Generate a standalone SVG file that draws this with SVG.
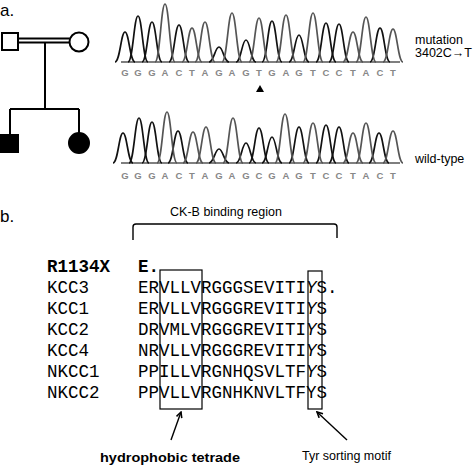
<svg xmlns="http://www.w3.org/2000/svg" xmlns:xlink="http://www.w3.org/1999/xlink" width="474" height="466" viewBox="0 0 474 466">
<style>
.ped{fill:none;stroke:#000;stroke-width:2}
.fill{fill:#000;stroke:#000;stroke-width:2}
.k{fill:none;stroke:#111;stroke-width:1.7}
.g{fill:none;stroke:#555;stroke-width:1.7}
.base{font-family:"Liberation Sans",Arial,sans-serif;font-size:9.5px;font-weight:bold;fill:#888;text-anchor:middle}
.lab{font-family:"Liberation Sans",Arial,sans-serif;font-size:12.5px;fill:#000}
.panel{font-family:"Liberation Sans",Arial,sans-serif;font-size:17px;fill:#000}
.seq{font-family:"Courier New","Liberation Mono",monospace;font-size:17.5px;fill:#000}
.box{fill:none;stroke:#000;stroke-width:1.2}
.arr{fill:none;stroke:#000;stroke-width:1.4}
</style>
<defs>
<path id="bump" d="M-10 0C-5 0 -4 -1 0 -1C4 -1 5 0 10 0" vector-effect="non-scaling-stroke"/>
<marker id="ah" viewBox="0 0 10 10" refX="9" refY="5" markerWidth="7" markerHeight="7" orient="auto" markerUnits="userSpaceOnUse">
<path d="M1 1L9 5L1 9" fill="none" stroke="#000" stroke-width="2.2"/>
</marker>
</defs>

<text class="panel" x="0" y="16">a.</text>
<text class="panel" x="0" y="222">b.</text>

<g id="pedigree">
<g id="father"><rect class="ped" x="2" y="33" width="16" height="17"/></g>
<g id="mother"><circle class="ped" cx="79" cy="42" r="9.5"/></g>
<g id="son"><rect class="fill" x="1" y="135" width="17" height="17"/></g>
<g id="daughter"><circle class="fill" cx="79" cy="143" r="10"/></g>
<g id="ped-lines">
<path class="ped" d="M18 38.5H69.5M18 42.5H69.5M45 42.5V109M10 109H79M10 109V135M79 109V133"/>
</g>
</g>

<g id="chromatogram-mutation">
<path class="g" d="M121 62H400"/>
<g class="k">
<use xlink:href="#bump" transform="translate(125,62) scale(1,30)"/>
<use xlink:href="#bump" transform="translate(138,62) scale(1,46)"/>
<use xlink:href="#bump" transform="translate(152,62) scale(1,40)"/>
<use xlink:href="#bump" transform="translate(179,62) scale(1,37)"/>
<use xlink:href="#bump" transform="translate(219,62) scale(1,15)"/>
<use xlink:href="#bump" transform="translate(246,62) scale(1,22)"/>
<use xlink:href="#bump" transform="translate(272,62) scale(1,41)"/>
<use xlink:href="#bump" transform="translate(299,62) scale(1,27)"/>
<use xlink:href="#bump" transform="translate(326,62) scale(1,39)"/>
<use xlink:href="#bump" transform="translate(339,62) scale(1,38)"/>
<use xlink:href="#bump" transform="translate(380,62) scale(1,34)"/>
</g>
<g class="g">
<use xlink:href="#bump" transform="translate(165,62) scale(1,58)"/>
<use xlink:href="#bump" transform="translate(192,62) scale(1,34)"/>
<use xlink:href="#bump" transform="translate(205,62) scale(1,40)"/>
<use xlink:href="#bump" transform="translate(232,62) scale(1,49)"/>
<use xlink:href="#bump" transform="translate(259,62) scale(1,44)"/>
<use xlink:href="#bump" transform="translate(286,62) scale(1,47)"/>
<use xlink:href="#bump" transform="translate(313,62) scale(1,49)"/>
<use xlink:href="#bump" transform="translate(353,62) scale(1,30)"/>
<use xlink:href="#bump" transform="translate(366,62) scale(1,45)"/>
<use xlink:href="#bump" transform="translate(393,62) scale(1,33)"/>
</g>
<g class="base">
<text x="125" y="76">G</text><text x="138" y="76">G</text><text x="152" y="76">G</text><text x="165" y="76">A</text><text x="179" y="76">C</text><text x="192" y="76">T</text><text x="205" y="76">A</text><text x="219" y="76">G</text><text x="232" y="76">A</text><text x="246" y="76">G</text><text x="259" y="76">T</text><text x="272" y="76">G</text><text x="286" y="76">A</text><text x="299" y="76">G</text><text x="313" y="76">T</text><text x="326" y="76">C</text><text x="339" y="76">C</text><text x="353" y="76">T</text><text x="366" y="76">A</text><text x="380" y="76">C</text><text x="393" y="76">T</text>
</g>
<path d="M256 92H264L260 85Z" fill="#000"/>
</g>

<g id="chromatogram-wildtype">
<path class="g" d="M121 163H400"/>
<g class="k">
<use xlink:href="#bump" transform="translate(123,163) scale(1,30)"/>
<use xlink:href="#bump" transform="translate(139,163) scale(1,45)"/>
<use xlink:href="#bump" transform="translate(152,163) scale(1,41)"/>
<use xlink:href="#bump" transform="translate(178,163) scale(1,32)"/>
<use xlink:href="#bump" transform="translate(219,163) scale(1,14)"/>
<use xlink:href="#bump" transform="translate(246,163) scale(1,20)"/>
<use xlink:href="#bump" transform="translate(259,163) scale(1,35)"/>
<use xlink:href="#bump" transform="translate(272,163) scale(1,26)"/>
<use xlink:href="#bump" transform="translate(299,163) scale(1,36)"/>
<use xlink:href="#bump" transform="translate(326,163) scale(1,38)"/>
<use xlink:href="#bump" transform="translate(339,163) scale(1,36)"/>
<use xlink:href="#bump" transform="translate(379,163) scale(1,30)"/>
</g>
<g class="g">
<use xlink:href="#bump" transform="translate(167,163) scale(1,51)"/>
<use xlink:href="#bump" transform="translate(193,163) scale(1,31)"/>
<use xlink:href="#bump" transform="translate(206,163) scale(1,36)"/>
<use xlink:href="#bump" transform="translate(233,163) scale(1,45)"/>
<use xlink:href="#bump" transform="translate(285,163) scale(1,49)"/>
<use xlink:href="#bump" transform="translate(313,163) scale(1,40)"/>
<use xlink:href="#bump" transform="translate(353,163) scale(1,30)"/>
<use xlink:href="#bump" transform="translate(366,163) scale(1,40)"/>
<use xlink:href="#bump" transform="translate(393,163) scale(1,32)"/>
</g>
<g class="base">
<text x="125" y="179">G</text><text x="138" y="179">G</text><text x="152" y="179">G</text><text x="165" y="179">A</text><text x="179" y="179">C</text><text x="192" y="179">T</text><text x="205" y="179">A</text><text x="219" y="179">G</text><text x="232" y="179">A</text><text x="246" y="179">G</text><text x="259" y="179">C</text><text x="272" y="179">G</text><text x="286" y="179">A</text><text x="299" y="179">G</text><text x="313" y="179">T</text><text x="326" y="179">C</text><text x="339" y="179">C</text><text x="353" y="179">T</text><text x="366" y="179">A</text><text x="380" y="179">C</text><text x="393" y="179">T</text>
</g>
</g>

<g id="labels-a">
<text class="lab" x="415" y="44">mutation</text>
<text class="lab" x="415" y="57">3402C→T</text>
<text class="lab" x="415" y="163">wild-type</text>
</g>

<g id="region-bracket">
<text class="lab" x="226" y="216" text-anchor="middle">CK-B binding region</text>
<path class="arr" d="M133 240V227Q133 224 136 224H334Q337 224 337 227V238"/>
</g>

<g id="alignment" class="seq">
<text x="47" y="272" font-weight="bold">R1134X</text><text x="138" y="272" font-weight="bold">E.</text>
<text x="47" y="293">KCC3</text><text x="138" y="293">ERVLLVRGGGSEVITI<tspan font-style="italic">Y</tspan>S.</text>
<text x="47" y="314">KCC1</text><text x="138" y="314">ERVLLVRGGGREVITI<tspan font-style="italic">Y</tspan>S</text>
<text x="47" y="335">KCC2</text><text x="138" y="335">DRVMLVRGGGREVITI<tspan font-style="italic">Y</tspan>S</text>
<text x="47" y="356">KCC4</text><text x="138" y="356">NRVLLVRGGGREVITI<tspan font-style="italic">Y</tspan>S</text>
<text x="47" y="377">NKCC1</text><text x="138" y="377">PPILLVRGNHQSVLTF<tspan font-style="italic">Y</tspan>S</text>
<text x="47" y="398">NKCC2</text><text x="138" y="398">PPVLLVRGNHKNVLTFYS</text>
</g>

<g id="tetrade-box"><rect class="box" x="160" y="270" width="42" height="139"/></g>
<g id="tyr-box"><rect class="box" x="308" y="271" width="14" height="138"/></g>

<g id="connectors">
<line class="arr" x1="171" y1="440" x2="181" y2="412" marker-end="url(#ah)"/>
<line class="arr" x1="347" y1="440" x2="317" y2="412" marker-end="url(#ah)"/>
</g>

<g id="annotations">
<text class="lab" x="100" y="462" font-size="16" font-weight="bold" textLength="140" lengthAdjust="spacingAndGlyphs">hydrophobic tetrade</text>
<text class="lab" x="302" y="460">Tyr sorting motif</text>
</g>
</svg>
